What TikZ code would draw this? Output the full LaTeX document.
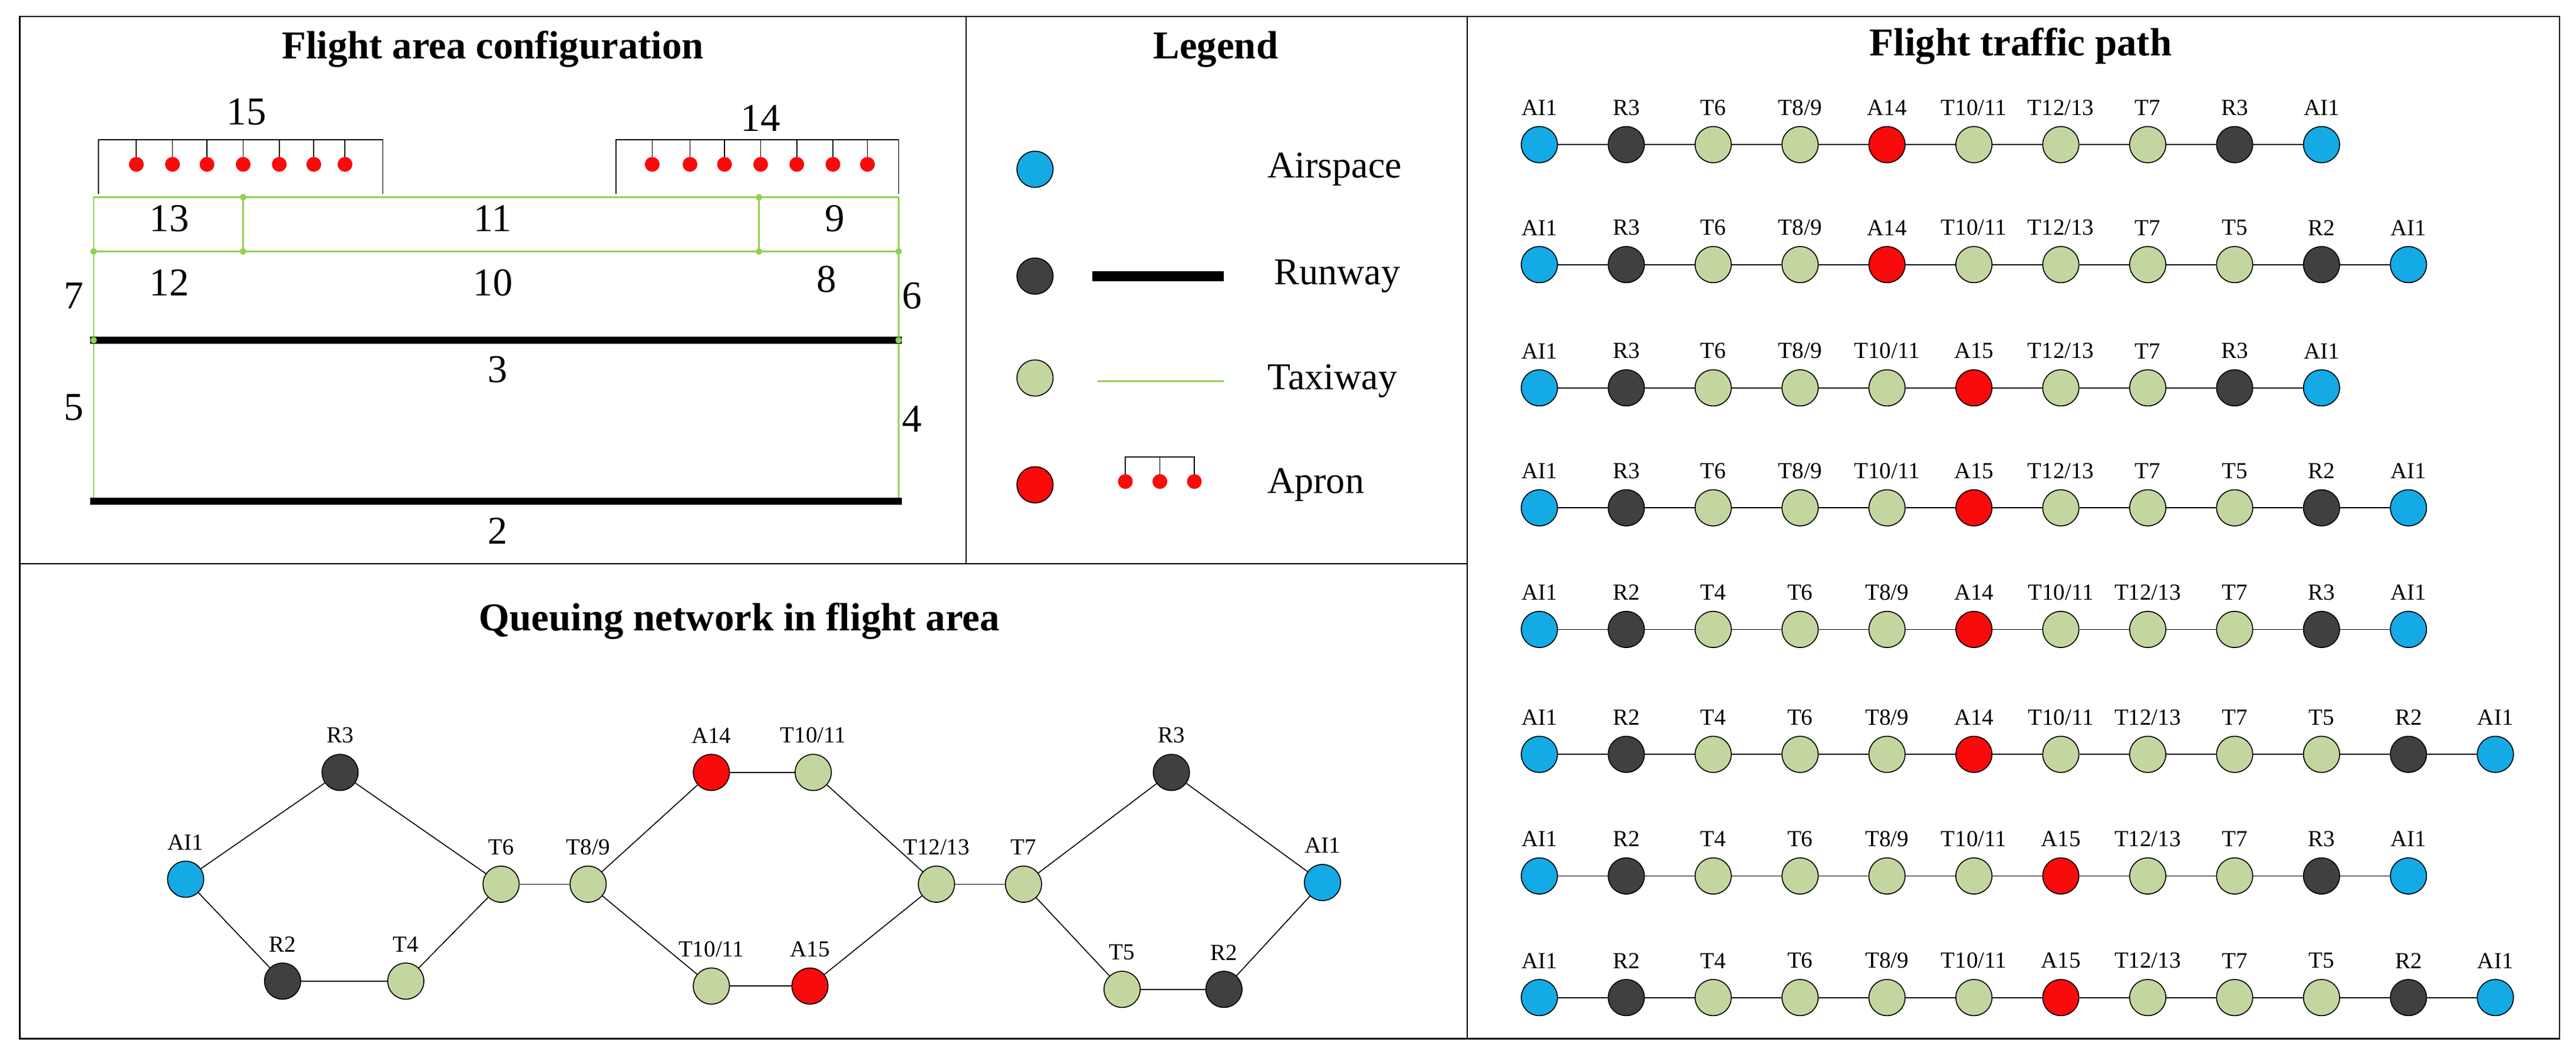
\documentclass[tikz,border=0pt]{standalone}
\usepackage{fontspec}
\setmainfont{Liberation Serif}
\definecolor{cb}{RGB}{20,170,230}
\definecolor{ck}{RGB}{64,64,64}
\definecolor{cg}{RGB}{196,214,160}
\definecolor{cr}{RGB}{250,10,10}
\definecolor{tw}{RGB}{146,208,80}
\begin{document}
\begin{tikzpicture}[x=1pt,y=-1pt,
  nd/.style={circle,draw=black,line width=0.6pt,minimum size=22pt,inner sep=0pt},
  b/.style={nd,fill=cb},k/.style={nd,fill=ck},g/.style={nd,fill=cg},r/.style={nd,fill=cr},
  lab/.style={font=\fontsize{14}{14}\selectfont},
  ttl/.style={font=\fontsize{24}{26}\selectfont\bfseries},
  num/.style={font=\fontsize{24}{26}\selectfont},
  leg/.style={font=\fontsize{23}{25}\selectfont,anchor=west},
  rw/.style={line width=4pt,black},
  tx/.style={tw,line width=0.8pt},
  edge/.style={line width=0.6pt},
  dot/.style={circle,fill=cr,inner sep=0pt,minimum size=9pt},
  gd/.style={circle,fill=tw,inner sep=0pt,minimum size=4pt}]
\useasboundingbox (0,0) rectangle (1568,646.2);
% frames
\draw[line width=0.8pt] (12,10) rectangle (1558,632);
\draw[line width=0.8pt] (588,10) -- (588,343);
\draw[line width=0.8pt] (12,343) -- (893,343);
\draw[line width=0.8pt] (893,10) -- (893,632);
\node[ttl] (t1) at (300,30) {Flight area configuration};
\node[ttl] (t2) at (740,30) {Legend};
\node[ttl] (t3) at (1230,28) {Flight traffic path};
\node[ttl] (t4) at (450,378) {Queuing network in flight area};
% flight area
\draw[tx] (57,120) -- (547,120) (57,153) -- (547,153) (57,120) -- (57,305) (547,120) -- (547,305)
  (148,120) -- (148,153) (462,120) -- (462,153);
\foreach \p in {(57,153),(148,120),(148,153),(462,120),(462,153),(547,153)} \node[gd] at \p {};
\draw[rw] (55,207) -- (549,207);
\draw[rw] (55,305) -- (549,305);
\foreach \p in {(57,207),(547,207)} \node[gd] at \p {};
\draw[line width=0.6pt] (60,118) -- (60,85) -- (233,85) -- (233,118);
\foreach \x in {83,105,126,148,170,191,210} {\draw[line width=0.6pt] (\x,85) -- (\x,100); \node[dot] at (\x,100) {};}
\draw[line width=0.6pt] (375,118) -- (375,85) -- (547,85) -- (547,118);
\foreach \x in {397,420,441,463,485,507,528} {\draw[line width=0.6pt] (\x,85) -- (\x,100); \node[dot] at (\x,100) {};}
\foreach \t/\x/\y in {15/150/68,14/463/72,13/103/133,11/300/133,9/508/133,12/103/172,10/300/172,8/503/170,7/45/180,6/555/180,3/303/225,5/45/248,4/555/255,2/303/323}
  \node[num] at (\x,\y) {\t};
% legend
\node[b] (lb) at (630,103) {};
\node[k] (lk) at (630,168) {};
\node[g] (lg) at (630,230) {};
\node[r] (lr) at (630,295) {};
\draw[line width=6pt] (665,168) -- (745,168);
\draw[tx] (668,232) -- (745,232);
\draw[line width=0.6pt] (685,293) -- (685,278) -- (727,278) -- (727,293) (706,278) -- (706,293);
\foreach \x in {685,706,727} \node[dot] at (\x,293) {};
\node[leg] at (768,103) {Airspace};
\node[leg] at (772,168) {Runway};
\node[leg] at (768,232) {Taxiway};
\node[leg] at (768,295) {Apron};
% queue network
\foreach \n/\s/\l/\x/\y in {a/b/AI1/113/535, b/k/R3/207/470, c/k/R2/172/597, d/g/T4/247/597, e/g/T6/305/538, f/g/T8\slash 9/358/538, h/r/A14/433/470, i/g/T10\slash 11/495/470, j/g/T10\slash 11/433/600, m/r/A15/493/600, n/g/T12\slash 13/570/538, o/g/T7/623/538, p/k/R3/713/470, q/g/T5/683/602, s/k/R2/745/602, u/b/AI1/805/537}
  \node[\s,label={[lab,label distance=3pt]above:\l}] (q\n) at (\x,\y) {};
\foreach \u/\v in {a/b,a/c,b/e,c/d,d/e,e/f,f/h,f/j,h/i,j/m,i/n,m/n,n/o,o/p,o/q,q/s,p/u,s/u}
  \draw[edge] (q\u) -- (q\v);
% flight traffic paths
\foreach \row/\y/\lst in {
 1/88/{b/AI1,k/R3,g/T6,g/T8\slash 9,r/A14,g/T10\slash 11,g/T12\slash 13,g/T7,k/R3,b/AI1},
 2/161/{b/AI1,k/R3,g/T6,g/T8\slash 9,r/A14,g/T10\slash 11,g/T12\slash 13,g/T7,g/T5,k/R2,b/AI1},
 3/236/{b/AI1,k/R3,g/T6,g/T8\slash 9,g/T10\slash 11,r/A15,g/T12\slash 13,g/T7,k/R3,b/AI1},
 4/309/{b/AI1,k/R3,g/T6,g/T8\slash 9,g/T10\slash 11,r/A15,g/T12\slash 13,g/T7,g/T5,k/R2,b/AI1},
 5/383/{b/AI1,k/R2,g/T4,g/T6,g/T8\slash 9,r/A14,g/T10\slash 11,g/T12\slash 13,g/T7,k/R3,b/AI1},
 6/459/{b/AI1,k/R2,g/T4,g/T6,g/T8\slash 9,r/A14,g/T10\slash 11,g/T12\slash 13,g/T7,g/T5,k/R2,b/AI1},
 7/533/{b/AI1,k/R2,g/T4,g/T6,g/T8\slash 9,g/T10\slash 11,r/A15,g/T12\slash 13,g/T7,k/R3,b/AI1},
 8/607/{b/AI1,k/R2,g/T4,g/T6,g/T8\slash 9,g/T10\slash 11,r/A15,g/T12\slash 13,g/T7,g/T5,k/R2,b/AI1}} {
  \foreach \s/\l [count=\i] in \lst {
    \pgfmathsetmacro\xx{937+(\i-1)*52.9}
    \node[\s,label={[lab,label distance=3pt]above:\l}] (p\row-\i) at (\xx,\y) {};
    \ifnum\i>1 \pgfmathtruncatemacro\pr{\i-1}\draw[edge] (p\row-\pr) -- (p\row-\i);\fi
  }
}
\end{tikzpicture}
\end{document}
